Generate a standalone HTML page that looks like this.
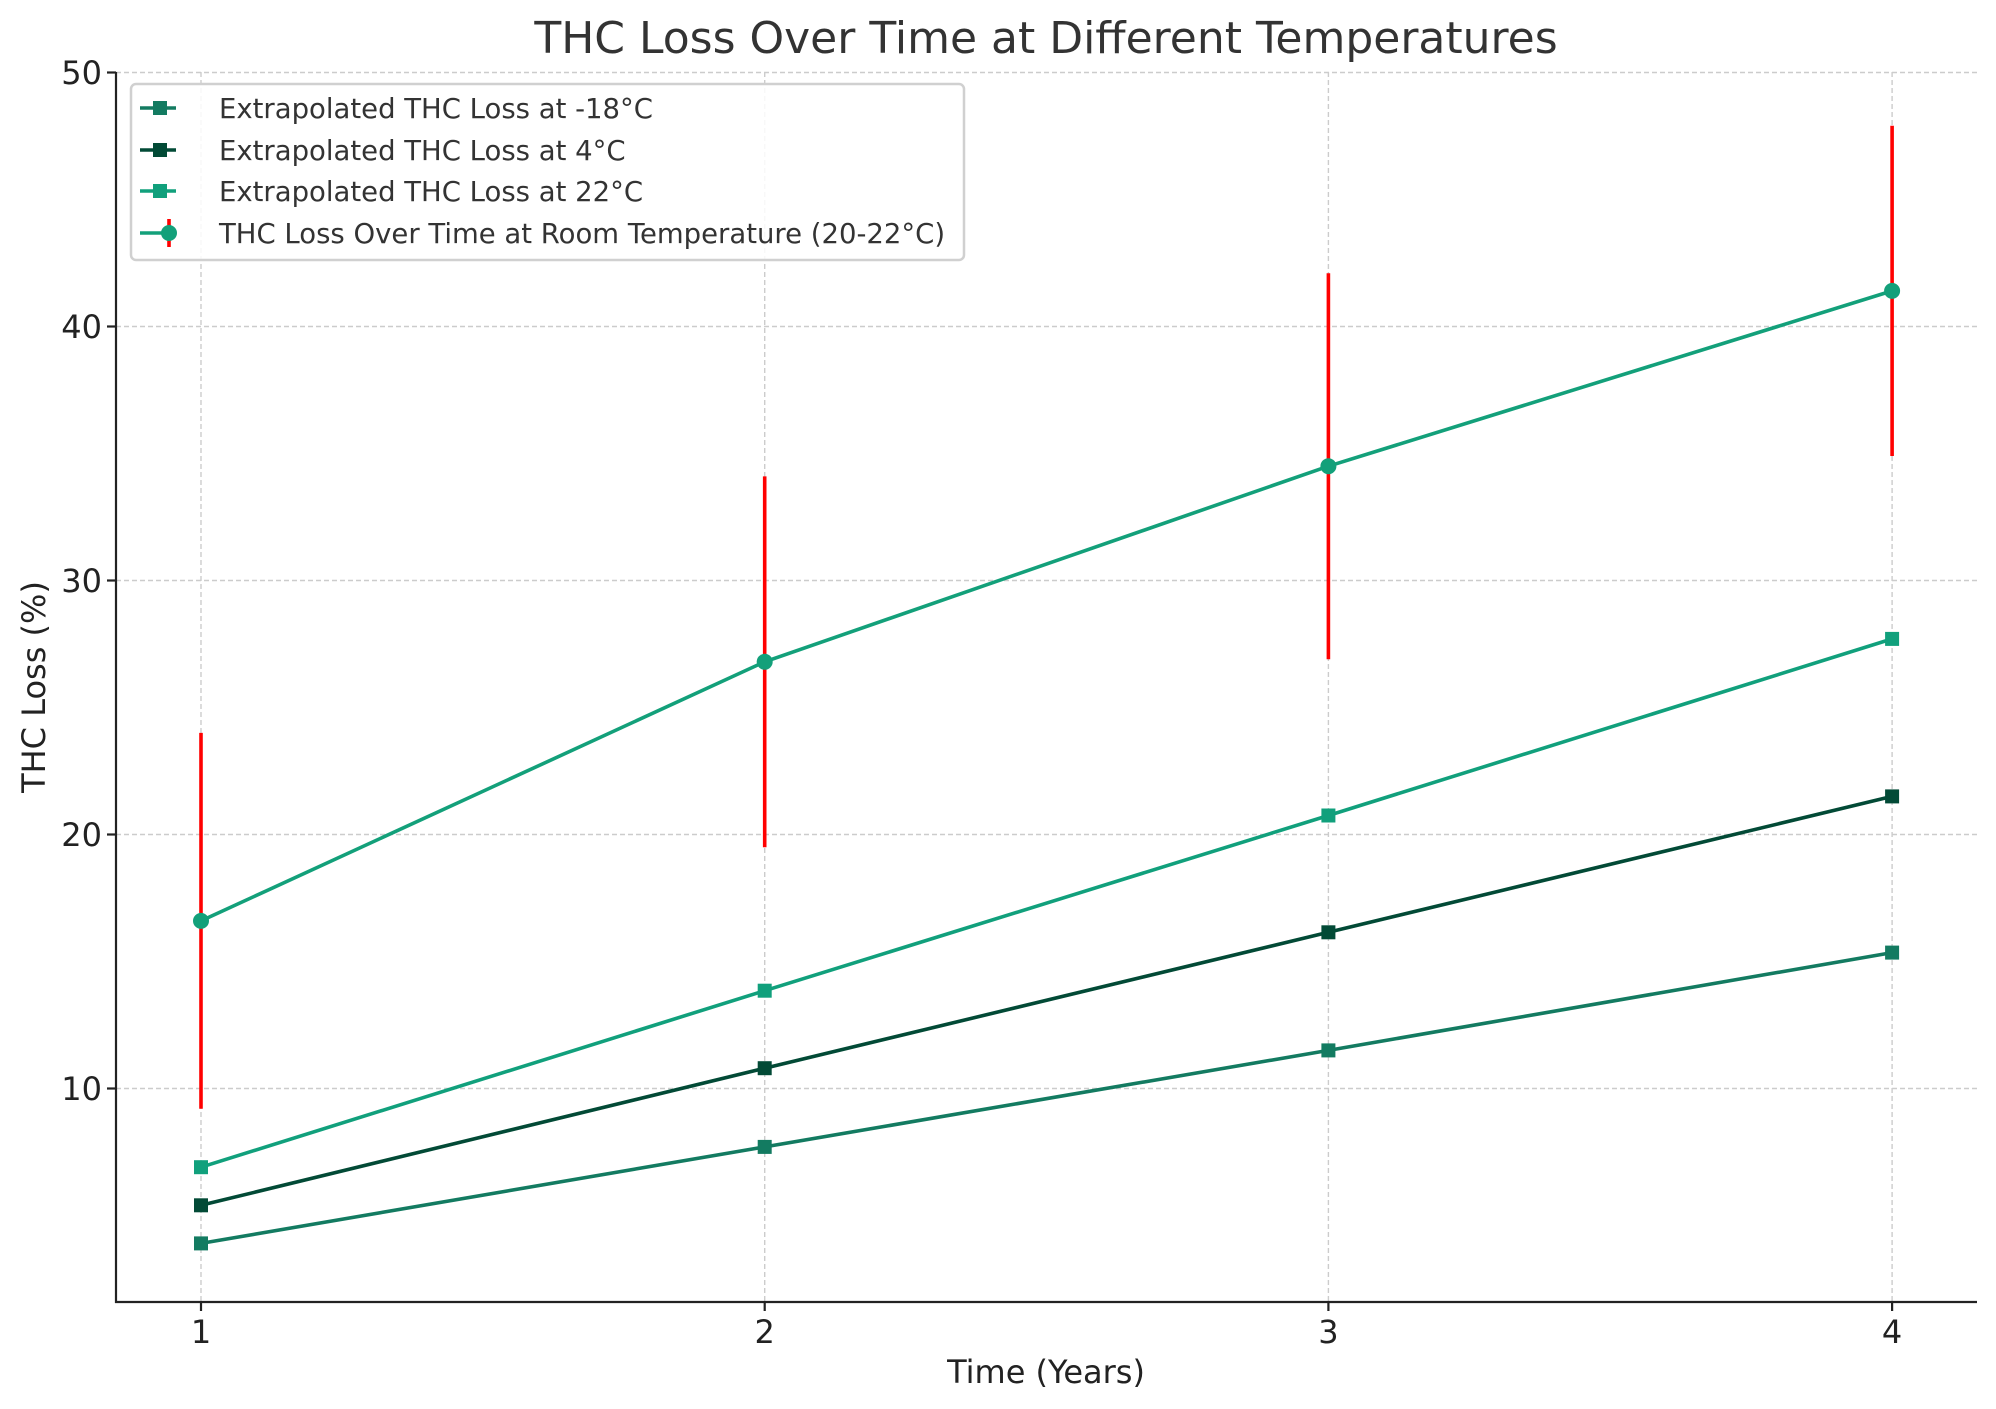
<!DOCTYPE html>
<html><head><meta charset="utf-8"><style>html,body{margin:0;padding:0;background:#fff}svg{display:block}</style></head>
<body>
<svg width="1996" height="1409" viewBox="0 0 1996 1409" xmlns="http://www.w3.org/2000/svg" font-family="'DejaVu Sans','Liberation Sans',sans-serif">
<rect width="1996" height="1409" fill="#fff"/>
<g stroke="#cccccc" stroke-width="1.4" stroke-dasharray="5,3">
<line x1="201" y1="72" x2="201" y2="1302"/><line x1="764.7" y1="72" x2="764.7" y2="1302"/>
<line x1="1328.4" y1="72" x2="1328.4" y2="1302"/><line x1="1892.1" y1="72" x2="1892.1" y2="1302"/>
<line x1="116" y1="1088.5" x2="1977" y2="1088.5"/><line x1="116" y1="834.5" x2="1977" y2="834.5"/>
<line x1="116" y1="580.5" x2="1977" y2="580.5"/><line x1="116" y1="326.5" x2="1977" y2="326.5"/>
<line x1="116" y1="72.5" x2="1977" y2="72.5"/>
</g>
<g stroke="#ff0000" stroke-width="3.6">
<line x1="201" y1="1108.8" x2="201" y2="732.9"/><line x1="764.7" y1="847.2" x2="764.7" y2="476.4"/>
<line x1="1328.4" y1="659.2" x2="1328.4" y2="273.2"/><line x1="1892.1" y1="456" x2="1892.1" y2="125.8"/>
</g>
<g fill="none" stroke-width="3.6">
<polyline stroke="#137b61" points="201,1243.4 764.7,1146.9 1328.4,1050.4 1892.1,952.6"/>
<polyline stroke="#024a36" points="201,1205.3 764.7,1068.2 1328.4,932.3 1892.1,796.4"/>
<polyline stroke="#11a07c" points="201,1167.2 764.7,990.7 1328.4,815.5 1892.1,638.9"/>
<polyline stroke="#13a07a" points="201,920.9 764.7,661.8 1328.4,466.2 1892.1,290.9"/>
</g>
<g fill="#137b61"><rect x="194" y="1236.4" width="14" height="14"/><rect x="757.7" y="1139.9" width="14" height="14"/><rect x="1321.4" y="1043.4" width="14" height="14"/><rect x="1885.1" y="945.6" width="14" height="14"/></g>
<g fill="#024a36"><rect x="194" y="1198.3" width="14" height="14"/><rect x="757.7" y="1061.2" width="14" height="14"/><rect x="1321.4" y="925.3" width="14" height="14"/><rect x="1885.1" y="789.4" width="14" height="14"/></g>
<g fill="#11a07c"><rect x="194" y="1160.2" width="14" height="14"/><rect x="757.7" y="983.7" width="14" height="14"/><rect x="1321.4" y="808.5" width="14" height="14"/><rect x="1885.1" y="631.9" width="14" height="14"/></g>
<g fill="#13a07a"><circle cx="201" cy="920.9" r="8"/><circle cx="764.7" cy="661.8" r="8"/><circle cx="1328.4" cy="466.2" r="8"/><circle cx="1892.1" cy="290.9" r="8"/></g>
<g stroke="#222" stroke-width="2.2"><line x1="116" y1="72" x2="116" y2="1303"/><line x1="115" y1="1302" x2="1977" y2="1302"/>
<line x1="201" y1="1302" x2="201" y2="1311"/><line x1="764.7" y1="1302" x2="764.7" y2="1311"/><line x1="1328.4" y1="1302" x2="1328.4" y2="1311"/><line x1="1892.1" y1="1302" x2="1892.1" y2="1311"/>
<line x1="107" y1="1088.5" x2="116" y2="1088.5"/><line x1="107" y1="834.5" x2="116" y2="834.5"/><line x1="107" y1="580.5" x2="116" y2="580.5"/><line x1="107" y1="326.5" x2="116" y2="326.5"/><line x1="107" y1="72.5" x2="116" y2="72.5"/></g>
<g font-size="32" fill="#222" text-anchor="middle">
<text x="201" y="1343">1</text><text x="764.7" y="1343">2</text><text x="1328.4" y="1343">3</text><text x="1892.1" y="1343">4</text>
</g>
<g font-size="32" fill="#222" text-anchor="end">
<text x="102" y="1100">10</text><text x="102" y="846">20</text><text x="102" y="592">30</text><text x="102" y="338">40</text><text x="102" y="84">50</text>
</g>
<text x="1046" y="1383" font-size="32" fill="#222" text-anchor="middle">Time (Years)</text>
<text transform="translate(45,687) rotate(-90)" font-size="32" fill="#222" text-anchor="middle">THC Loss (%)</text>
<text x="1046" y="53" font-size="44" fill="#333" text-anchor="middle">THC Loss Over Time at Different Temperatures</text>
<rect x="131" y="84" width="833" height="176" rx="5" fill="#fff" fill-opacity="0.85" stroke="#d0d0d0" stroke-width="2.5"/>
<g stroke-width="3.6">
<line x1="140" y1="108" x2="176" y2="108" stroke="#137b61"/><rect x="161" y="101" width="14" height="14" fill="#137b61" transform="translate(-8,0)"/>
<line x1="140" y1="150" x2="176" y2="150" stroke="#024a36"/><rect x="153" y="143" width="14" height="14" fill="#024a36"/>
<line x1="140" y1="191" x2="176" y2="191" stroke="#11a07c"/><rect x="153" y="184" width="14" height="14" fill="#11a07c"/>
<line x1="169" y1="219" x2="169" y2="247" stroke="#ff0000"/>
<line x1="140" y1="233" x2="176" y2="233" stroke="#13a07a"/><circle cx="169" cy="233" r="8" fill="#13a07a"/>
</g>
<g font-size="27.5" fill="#333">
<text x="219" y="118">Extrapolated THC Loss at -18°C</text>
<text x="219" y="160">Extrapolated THC Loss at 4°C</text>
<text x="219" y="201">Extrapolated THC Loss at 22°C</text>
<text x="219" y="243">THC Loss Over Time at Room Temperature (20-22°C)</text>
</g>
</svg>
</body></html>
